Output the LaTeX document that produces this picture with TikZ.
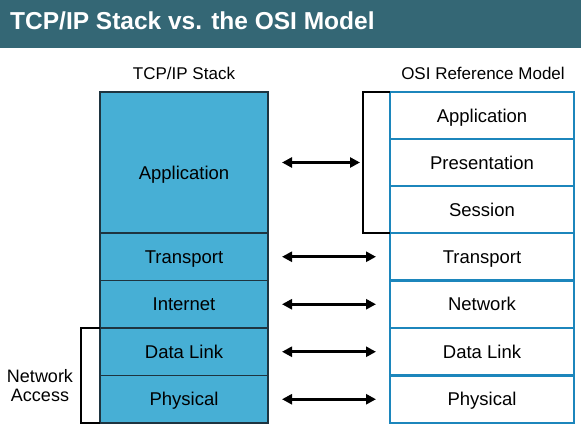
\documentclass[tikz,border=0pt]{standalone}
\usepackage{fontspec}
\setmainfont{Liberation Sans}
\usetikzlibrary{arrows.meta,positioning}
\definecolor{barteal}{RGB}{52,103,117}
\definecolor{tcpblue}{RGB}{71,175,213}
\definecolor{tcpedge}{RGB}{30,52,64}
\definecolor{osiedge}{RGB}{28,134,188}

\begin{document}
\begin{tikzpicture}[
    x=1pt, y=-1pt,
    node distance=0pt,
    tcplayer/.style={rectangle, draw=tcpedge, line width=1.2pt, fill=tcpblue, minimum width=168pt, minimum height=47.5pt, outer sep=0pt, text height=13pt, text depth=0pt, font=\fontsize{18.5}{21}\selectfont},
    osilayer/.style={rectangle, draw=osiedge, line width=2.2pt, fill=white, minimum width=184pt, minimum height=47.5pt, outer sep=0pt, text height=13pt, text depth=0pt, font=\fontsize{18.5}{21}\selectfont},
    header/.style={font=\fontsize{17}{20}\selectfont},
    bracket/.style={line width=2pt},
    arrow/.style={{Triangle[length=10pt,width=10pt]}-{Triangle[length=10pt,width=10pt]}, line width=3pt}
]
    \useasboundingbox (0,0) rectangle (581,429);
    \fill[barteal] (0,0) rectangle (581,48);
    \node[anchor=base west, inner sep=0pt, text=white, font=\fontsize{24.5}{28}\bfseries\selectfont] (title) at (10,29) {TCP/IP Stack vs. the OSI Model};

    % TCP/IP stack
    \node[header] (tcphead) at (184,73) {TCP/IP Stack};
    \node[tcplayer, minimum height=141pt, text height=33pt, anchor=north west] (tcpapp) at (100,92) {Application};
    \node[tcplayer, below=of tcpapp] (tcptrans) {Transport};
    \node[tcplayer, below=of tcptrans] (tcpnet) {Internet};
    \node[tcplayer, below=of tcpnet] (tcplink) {Data Link};
    \node[tcplayer, below=of tcplink] (tcpphys) {Physical};

    % OSI model
    \node[header] (osihead) at (483,73) {OSI Reference Model};
    \node[osilayer, minimum height=47pt, anchor=north west] (osiapp) at (390,92) {Application};
    \node[osilayer, minimum height=47pt, below=of osiapp] (osipres) {Presentation};
    \node[osilayer, minimum height=47pt, below=of osipres] (osisess) {Session};
    \node[osilayer, below=of osisess] (ositrans) {Transport};
    \node[osilayer, below=of ositrans] (osinet) {Network};
    \node[osilayer, below=of osinet] (osilink) {Data Link};
    \node[osilayer, below=of osilink] (osiphys) {Physical};

    % brackets
    \draw[bracket] (osiapp.north west) -- ++(-27,0) coordinate (upperbr) |- (osisess.south west);
    \draw[bracket] (tcplink.north west) -- ++(-19,0) coordinate (lowerbr) |- (tcpphys.south west);
    \node[align=center, font=\fontsize{18}{19}\selectfont] (access) at (40,386) {Network\\Access};

    % arrows
    \draw[arrow] ([xshift=14pt]tcpapp.east) -- ([xshift=-3pt]upperbr |- tcpapp.east);
    \draw[arrow] ([xshift=14pt]tcptrans.east) -- ([xshift=-14pt]ositrans.west);
    \draw[arrow] ([xshift=14pt]tcpnet.east) -- ([xshift=-14pt]osinet.west);
    \draw[arrow] ([xshift=14pt]tcplink.east) -- ([xshift=-14pt]osilink.west);
    \draw[arrow] ([xshift=14pt]tcpphys.east) -- ([xshift=-14pt]osiphys.west);
\end{tikzpicture}
\end{document}
